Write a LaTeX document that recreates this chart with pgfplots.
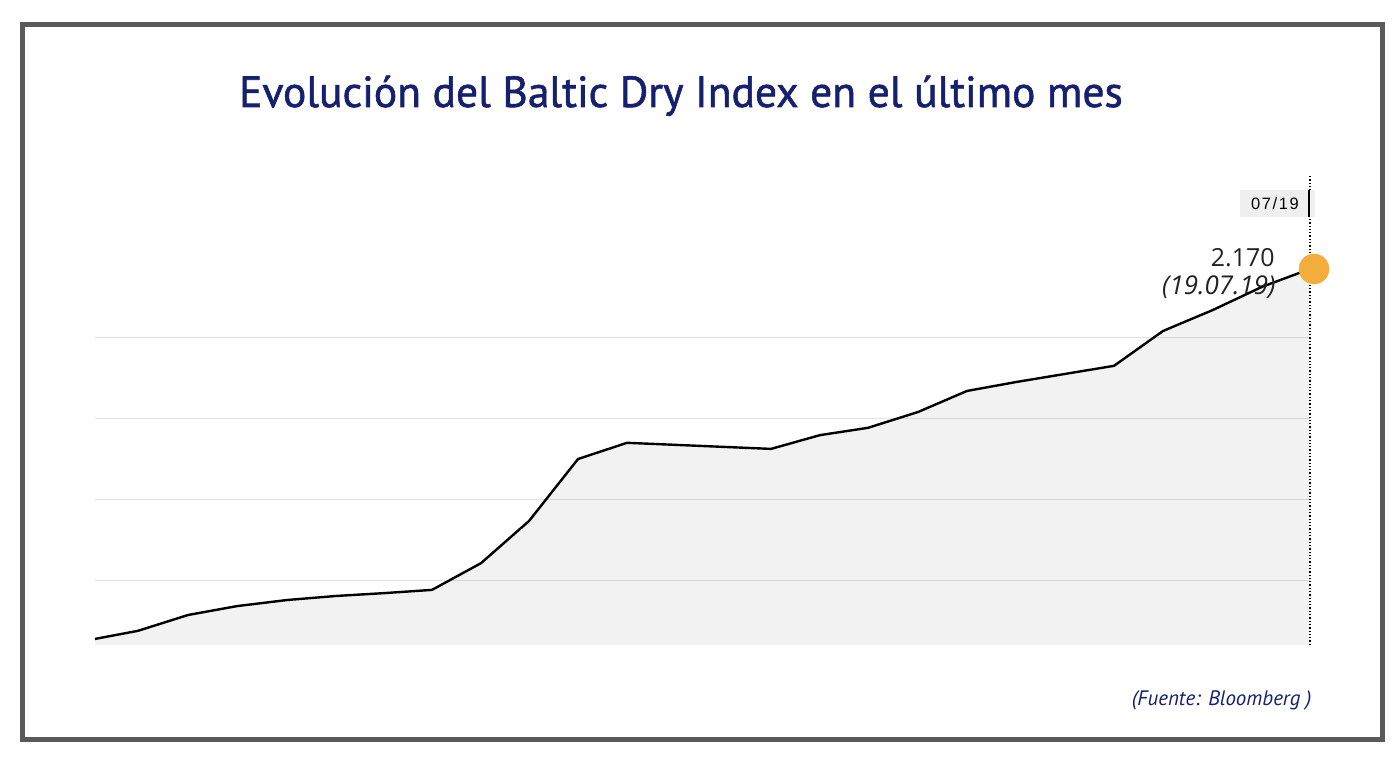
\documentclass[border=0pt]{standalone}
\usepackage{pgfplots}
\pgfplotsset{compat=1.18}
\usepackage{fontspec}
\setmainfont{PT Sans}
\newfontfamily\titlefont[FakeBold=1.3]{PT Sans}
\newfontfamily\labfont{Open Sans}
\newfontfamily\tagfont[LetterSpace=10]{Liberation Sans}
\definecolor{navy}{HTML}{16206E}
\definecolor{framegray}{HTML}{5A5A5A}
\definecolor{dotorange}{HTML}{F2AD3A}
\definecolor{tagbg}{HTML}{EFEFEF}
\definecolor{gridc}{HTML}{E2E2E2}
\definecolor{labc}{HTML}{222222}
\begin{document}
\begin{tikzpicture}[x=1bp,y=1bp]
\useasboundingbox (0,0) rectangle (1400,762);
\fill[white] (0,0) rectangle (1400,762);
\draw[line width=5bp, color=framegray] (22.5,737.5) rectangle (1382.5,22.5);
\node[navy, anchor=base, font=\titlefont\fontsize{43.7}{50}\selectfont] at (681,655) {Evolución del Baltic Dry Index en el último mes};
\begin{axis}[at={(95bp,117bp)}, anchor=south west, scale only axis,
  width=1215bp, height=470bp, xmin=95, xmax=1310, ymin=1242, ymax=2402,
  clip=false, axis line style={draw=none}, tick style={draw=none},
  xtick=\empty, ytick={1400,1600,1800,2000}, yticklabels={},
  ymajorgrids, grid style={gridc, line width=1bp}]
\addplot[draw=none, fill=black, fill opacity=0.05] coordinates {
(95,1257) (138,1277) (188,1316) (237,1338) (287,1353) (336,1363) (384,1370)
(432,1378) (481,1444) (529,1548) (578,1701) (627,1741) (675,1736) (723,1731)
(771,1726) (820,1760) (868,1778) (918,1817) (967,1869) (1016,1891) (1065,1911)
(1114,1931) (1163,2017) (1213,2069) (1262,2126) (1310,2170)} \closedcycle;
\addplot[black, line width=2.4bp] coordinates {
(95,1257) (138,1277) (188,1316) (237,1338) (287,1353) (336,1363) (384,1370)
(432,1378) (481,1444) (529,1548) (578,1701) (627,1741) (675,1736) (723,1731)
(771,1726) (820,1760) (868,1778) (918,1817) (967,1869) (1016,1891) (1065,1911)
(1114,1931) (1163,2017) (1213,2069) (1262,2126) (1310,2170)};
\draw[black, dotted, line width=1.3bp] (axis cs:1310,1242) -- (axis cs:1310,2402);
\addplot[only marks, mark=*, mark size=15bp, color=dotorange] coordinates {(1314,2170)};
\end{axis}
\fill[tagbg] (1240,545) rectangle (1315,572);
\node[anchor=base, font=\tagfont\fontsize{16.5}{18}\selectfont] at (1275,552) {07/19};
\draw[black, line width=2bp] (1309,545) -- (1309,572);
\node[labc, anchor=base east, font=\labfont\fontsize{25}{28}\selectfont] at (1278,495) {2.170};
\node[labc, anchor=base east, font=\labfont\itshape\fontsize{26}{28}\selectfont] at (1279,467) {(19.07.19)};
\node[navy, anchor=base east, font=\itshape\fontsize{21}{24}\selectfont] at (1315,57) {(Fuente: Bloomberg )};
\end{tikzpicture}
\end{document}
